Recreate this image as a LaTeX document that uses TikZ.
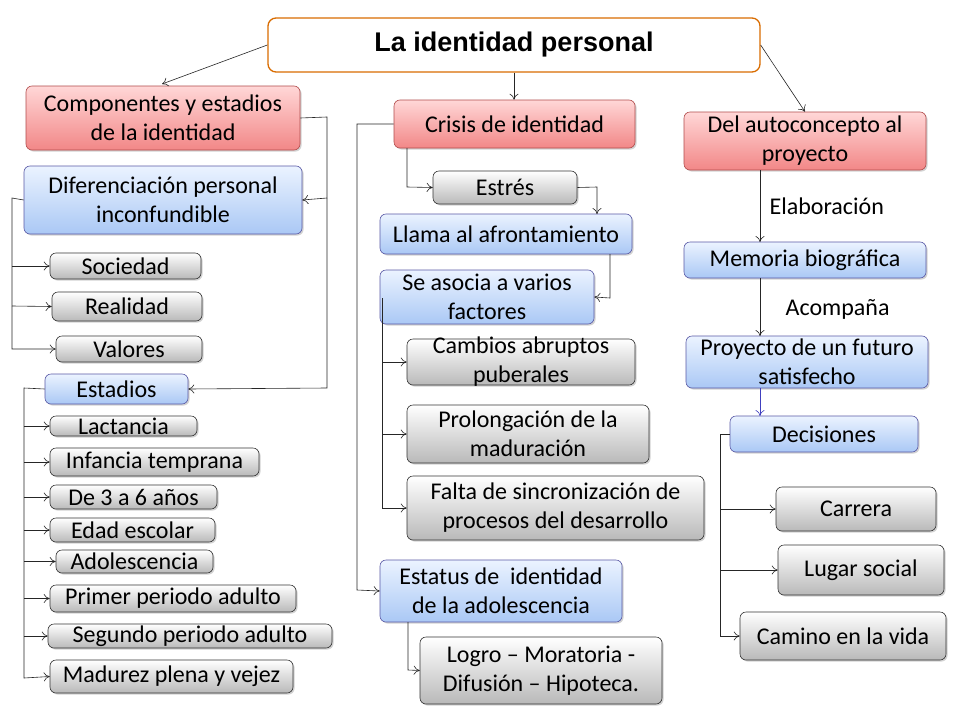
\documentclass[tikz,border=0pt]{standalone}
\usepackage{fontspec}
\setmainfont{Carlito}
\newfontfamily\titlefont{Liberation Sans}
\usetikzlibrary{arrows.meta,shadows}
\definecolor{rtop}{RGB}{255,215,215}
\definecolor{rbot}{RGB}{242,135,135}
\definecolor{btop}{RGB}{235,243,255}
\definecolor{bbot}{RGB}{170,200,245}
\begin{document}
\begin{tikzpicture}[x=1pt,y=-1pt,
 bx/.style={rounded corners=6pt,line width=0.6pt,align=center,inner sep=0pt,
   drop shadow={shadow xshift=1.5pt,shadow yshift=-1.5pt,opacity=0.35}},
 red/.style={bx,top color=rtop,bottom color=rbot,draw=red!40!gray},
 blu/.style={bx,top color=btop,bottom color=bbot,draw=blue!30!gray},
 gry/.style={bx,top color=white,bottom color=gray!55,draw=black!80},
 ln/.style={draw=black!85,line width=0.6pt},
 ar/.style={ln,-{To[length=6pt,width=9pt]}},
 lab/.style={font=\fontsize{24}{28}\selectfont}]
\useasboundingbox (0,0) rectangle (960,720);
\fill[white] (0,0) rectangle (960,720);
\newcommand{\bxx}[6]{\node[#1,minimum width=#4-#2,minimum height=#5-#3] (#6) at ({(#2+#4)/2},{(#3+#5)/2}) {};}
% title
\node[rounded corners=8pt,draw=orange!85!black,line width=1.3pt,fill=white,minimum width=492,minimum height=54,font=\fontsize{27}{30}\selectfont\titlefont\bfseries] (T) at (514,45) {La identidad personal};
\bxx{red}{26}{86}{300}{150}{comp}
\bxx{blu}{24}{166}{302}{234}{dif}
\bxx{gry}{50}{253}{201}{279}{soc}
\bxx{gry}{52}{292}{202}{321}{rea}
\bxx{gry}{56}{336}{202}{362}{val}
\bxx{blu}{45}{374}{188}{404}{est}
\bxx{gry}{50}{416}{197}{436}{lac}
\bxx{gry}{50}{448}{259}{476}{inf}
\bxx{gry}{50}{485}{217}{509}{tres}
\bxx{gry}{50}{518}{215}{542}{esc}
\bxx{gry}{56}{550}{213}{573}{ado}
\bxx{gry}{50}{585}{296}{612}{pri}
\bxx{gry}{48}{624}{332}{648}{seg}
\bxx{gry}{50}{660}{293}{693}{mad}
\bxx{red}{394}{100}{635}{148}{cri}
\bxx{gry}{433}{171}{577}{204}{str}
\bxx{blu}{380}{214}{632}{254}{lla}
\bxx{blu}{380}{270}{594}{324}{aso}
\bxx{gry}{407}{339}{635}{385}{cam}
\bxx{gry}{407}{405}{649}{463}{pro}
\bxx{gry}{407}{476}{704}{540}{fal}
\bxx{blu}{380}{560}{622}{622}{sta}
\bxx{gry}{420}{637}{662}{704}{log}
\bxx{red}{684}{112}{926}{170}{del}
\bxx{blu}{684}{242}{926}{278}{mem}
\bxx{blu}{686}{336}{928}{388}{pfu}
\bxx{blu}{730}{416}{918}{452}{dec}
\bxx{gry}{776}{487}{936}{531}{car}
\bxx{gry}{778}{545}{944}{595}{lug}
\bxx{gry}{740}{612}{946}{660}{cvi}
\begin{scope}[every node/.style={align=center,inner sep=0pt,font=\fontsize{24}{29}\selectfont}]
\node at (comp) {Componentes y estadios\\de la identidad};
\node at (dif) {Diferenciación personal\\inconfundible};
\node at (soc) {Sociedad};
\node at (rea) {Realidad};
\node at (val) {Valores};
\node at (est) {Estadios};
\node at (lac) {Lactancia};
\node at (inf) {Infancia temprana};
\node at (tres) {De 3 a 6 años};
\node at (esc) {Edad escolar};
\node at (ado) {Adolescencia};
\node at (pri) {Primer periodo adulto};
\node at (seg) {Segundo periodo adulto};
\node at (mad) {Madurez plena y vejez};
\node at (cri) {Crisis de identidad};
\node at (str) {Estrés};
\node at (lla) {Llama al afrontamiento};
\node at (aso) {Se asocia a varios\\factores};
\node at (cam) {Cambios abruptos\\puberales};
\node at (pro) {Prolongación de la\\maduración};
\node at (fal) {Falta de sincronización de\\procesos del desarrollo};
\node at (sta) {Estatus de\ \ identidad\\de la adolescencia};
\node at (log) {Logro – Moratoria -\\Difusión – Hipoteca.};
\node at (del) {Del autoconcepto al\\proyecto};
\node at (mem) {Memoria biográfica};
\node at (pfu) {Proyecto de un futuro\\satisfecho};
\node at (dec) {Decisiones};
\node at (car) {Carrera};
\node at (lug) {Lugar social};
\node at (cvi) {Camino en la vida};
\end{scope}
% connectors
\draw[ar] (T.west) -- (162,84) coordinate (c1);
\draw[ar] (T.south) -- (cri.north -| T.south);
\draw[ar] (T.east) -- (del.north -| 805,0);
\draw[ln] (comp.east) -- (327,117) -- (327,198);
\draw[ar] (327,198) -- (dif.east);
\draw[ar] (327,198) -- (327,388) -- (est.east);
\draw[ar] (dif.west) -- (12,198) -- (12,349) -- (val.west);
\draw[ar] (12,266) -- (soc.west);
\draw[ar] (12,306) -- (rea.west);
\draw[ar] (est.west) -- (24,388) -- (24,678) -- (mad.west);
\foreach \n in {lac,inf,tres,esc,ado,pri,seg} \draw[ar] (24,0 |- \n.west) -- (\n.west);
\draw[ar] (cri.west) -- (357,124) -- (357,590) -- (sta.west);
\draw[ar] (407,148) -- (407,187) -- (str.west);
\draw[ar] (str.east) -- (597,187) -- (597,214);
\draw[ar] (610,254) -- (610,298) -- (aso.east);
\draw[ar] (382,298) -- (382,508) -- (fal.west);
\draw[ar] (382,362) -- (cam.west);
\draw[ar] (382,434) -- (pro.west);
\draw[ar] (408,622) -- (408,670) -- (log.west);
\draw[ar] (760,170) -- (760,242) node[pos=0.5,right=6pt,lab] {Elaboración};
\draw[ar] (760,278) -- (760,336) node[pos=0.55,right=22pt,lab] {Acompaña};
\draw[ar,draw=blue!50!gray] (760,388) -- (760,416);
\draw[ar] (dec.west) -- (720,434) -- (720,636) -- (cvi.west);
\draw[ar] (720,509) -- (car.west);
\draw[ar] (720,570) -- (lug.west);
\end{tikzpicture}
\end{document}
